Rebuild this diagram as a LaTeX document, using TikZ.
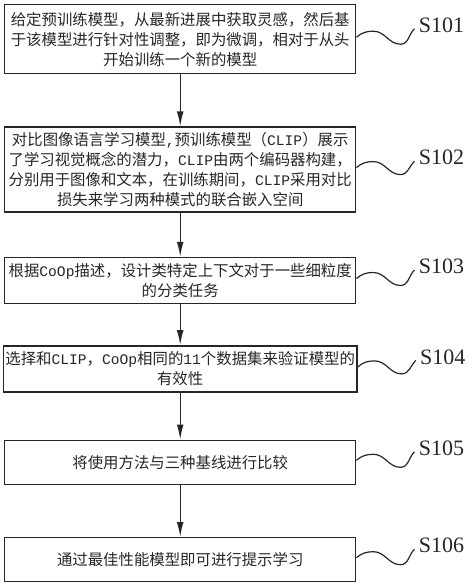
\documentclass[tikz,border=0pt]{standalone}
\usepackage{fontspec}
\setmainfont{Noto Sans CJK SC}
\newfontfamily\stepfont{Liberation Serif}
\newfontfamily\halfwidth[Scale=0.95]{Liberation Mono}
\newcommand{\hw}[1]{{\halfwidth #1}}
\usetikzlibrary{arrows.meta, positioning}

\begin{document}
\begin{tikzpicture}[
    node distance=24pt,
    stepbox/.style={rectangle, minimum width=175.5pt, minimum height=22pt, inner xsep=1pt, inner ysep=2pt, align=center, draw=black!85, line width=0.7pt, text=black!85, font=\fontsize{7.7}{10}\selectfont},
    steplabel/.style={inner sep=0pt, text=black!85, font=\stepfont\fontsize{11}{13}\selectfont},
    wave/.style={draw=black!85, line width=0.6pt},
    arrow/.style={-{Latex[length=7.5pt, width=3.4pt]}, draw=black!85, line width=0.7pt}
]
\useasboundingbox (0,0) rectangle (237pt,-294pt);
\node (box1) [stepbox, minimum height=34.5pt, anchor=north west] at (2pt,-2pt) {给定预训练模型，从最新进展中获取灵感，然后基\\于该模型进行针对性调整，即为微调，相对于从头\\开始训练一个新的模型};
\node (box2) [stepbox, minimum height=42.5pt, below=26pt of box1] {对比图像语言学习模型\hw{,}预训练模型（\hw{CLIP}）展示\\了学习视觉概念的潜力，\hw{CLIP}由两个编码器构建，\\分别用于图像和文本，在训练期间，\hw{CLIP}采用对比\\损失来学习两种模式的联合嵌入空间};
\node (box3) [stepbox, minimum height=23pt, below=22pt of box2] {根据\hw{CoOp}描述，设计类特定上下文对于一些细粒度\\的分类任务};
\node (box4) [stepbox, minimum height=23pt, below=20.5pt of box3] {选择和\hw{CLIP}，\hw{CoOp}相同的\hw{11}个数据集来验证模型的\\有效性};
\node (box5) [stepbox, below=23.5pt of box4] {将使用方法与三种基线进行比较};
\node (box6) [stepbox, below=26pt of box5] {通过最佳性能模型即可进行提示学习};
\draw [arrow] (box1) -- (box2);
\draw [arrow] (box2) -- (box3);
\draw [arrow] (box3) -- (box4);
\draw [arrow] (box4) -- (box5);
\draw [arrow] (box5) -- (box6);
% step numbers
\node (lab1) [steplabel, right=31pt of box1.east, yshift=7pt] {S101};
\node (lab2) [steplabel, right=31pt of box2.east, yshift=6pt] {S102};
\node (lab3) [steplabel, right=31pt of box3.east, yshift=7pt] {S103};
\node (lab4) [steplabel, right=31pt of box4.east, yshift=6pt] {S104};
\node (lab5) [steplabel, right=31pt of box5.east, yshift=7pt] {S105};
\node (lab6) [steplabel, right=31pt of box6.east, yshift=7pt] {S106};
\draw [wave] ([yshift=1pt]box1.east) to[out=40,in=180] ++(8.5pt,3pt) to[out=0,in=180] ++(13.5pt,-6.5pt) to[out=0,in=225] ([xshift=-2pt,yshift=-1.75pt]lab1.west);
\draw [wave] ([yshift=1pt]box2.east) to[out=40,in=180] ++(8.5pt,3pt) to[out=0,in=180] ++(13.5pt,-6.5pt) to[out=0,in=225] ([xshift=-2pt,yshift=-1.75pt]lab2.west);
\draw [wave] ([yshift=1pt]box3.east) to[out=40,in=180] ++(8.5pt,3pt) to[out=0,in=180] ++(13.5pt,-6.5pt) to[out=0,in=225] ([xshift=-2pt,yshift=-1.75pt]lab3.west);
\draw [wave] ([yshift=1pt]box4.east) to[out=40,in=180] ++(8.5pt,3pt) to[out=0,in=180] ++(13.5pt,-6.5pt) to[out=0,in=225] ([xshift=-2pt,yshift=-1.75pt]lab4.west);
\draw [wave] ([yshift=1pt]box5.east) to[out=40,in=180] ++(8.5pt,3pt) to[out=0,in=180] ++(13.5pt,-6.5pt) to[out=0,in=225] ([xshift=-2pt,yshift=-1.75pt]lab5.west);
\draw [wave] ([yshift=1pt]box6.east) to[out=40,in=180] ++(8.5pt,3pt) to[out=0,in=180] ++(13.5pt,-6.5pt) to[out=0,in=225] ([xshift=-2pt,yshift=-1.75pt]lab6.west);
\end{tikzpicture}
\end{document}
